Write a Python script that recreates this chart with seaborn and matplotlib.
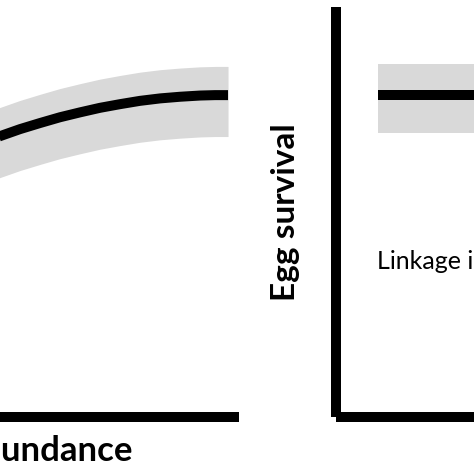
import matplotlib
matplotlib.use("Agg")
import matplotlib.pyplot as plt
import seaborn as sns
import pandas as pd

# ---- data ----
abund_x = [3.52, 3.79, 4.33, 4.88, 5.42, 5.97, 6.51, 7.06, 7.60, 8.15, 8.69, 9.24, 9.65, 10.0]
abund_y = [6.76, 6.85, 7.02, 7.17, 7.31, 7.43, 7.54, 7.63, 7.71, 7.77, 7.81, 7.84, 7.85, 7.85]
abund_hi = [7.46, 7.55, 7.72, 7.87, 8.01, 8.13, 8.24, 8.33, 8.41, 8.47, 8.51, 8.54, 8.55, 8.55]
abund_lo = [5.75, 5.84, 6.01, 6.16, 6.30, 6.42, 6.53, 6.62, 6.70, 6.76, 6.80, 6.83, 6.84, 6.84]

link_x = [1.15, 10.0]
link_y = [7.85, 7.85]
link_hi = [8.60, 8.60]
link_lo = [6.93, 6.93]

x_label = "Abundance"
y_label = "Egg survival"
note = "Linkage is weak"

sns.set_theme(style="white")
plt.rcParams['font.family'] = ['Lato', 'DejaVu Sans']

fig = plt.figure(figsize=(4.74, 4.74), dpi=100)
fig.patch.set_facecolor("white")

band_col = "#d9d9d9"
LW = 7.2

axL = fig.add_axes([-0.2932, 0.1203, 0.7975, 0.8650])
axR = fig.add_axes([0.7089, 0.1203, 0.7975, 0.8650])

for ax in (axL, axR):
    ax.set_xlim(0, 10.3)
    ax.set_ylim(0, 10)
    ax.set_facecolor("none")
    for s in ("top", "right"):
        ax.spines[s].set_visible(False)
    for s in ("left", "bottom"):
        ax.spines[s].set_linewidth(LW)
        ax.spines[s].set_color("black")
        ax.spines[s].set_capstyle("butt")

dfL = pd.DataFrame({"x": abund_x, "y": abund_y})
axL.fill_between(abund_x, abund_lo, abund_hi, color=band_col, lw=0)
sns.lineplot(data=dfL, x="x", y="y", ax=axL, color="black", lw=LW,
             solid_capstyle="butt")

dfR = pd.DataFrame({"x": link_x, "y": link_y})
axR.fill_between(link_x, link_lo, link_hi, color=band_col, lw=0)
sns.lineplot(data=dfR, x="x", y="y", ax=axR, color="black", lw=LW,
             solid_capstyle="butt")

for ax in (axL, axR):
    ax.set_xticks([])
    ax.set_yticks([])
    ax.set_xlabel("")
    ax.set_ylabel("")

axL.set_xlabel(x_label, fontsize=25, fontweight="bold", labelpad=13.3, color="black")
axL.xaxis.label.set_x(0.4854)
axR.text(-0.095, 0.5, y_label, transform=axR.transAxes, rotation=90,
         fontsize=24, fontweight="bold", ha="right", va="center", color="black")
axR.text(1.12, 3.78, note, fontsize=18, ha="left", va="center", color="black")

fig.savefig("out.png", dpi=100, facecolor="white")
